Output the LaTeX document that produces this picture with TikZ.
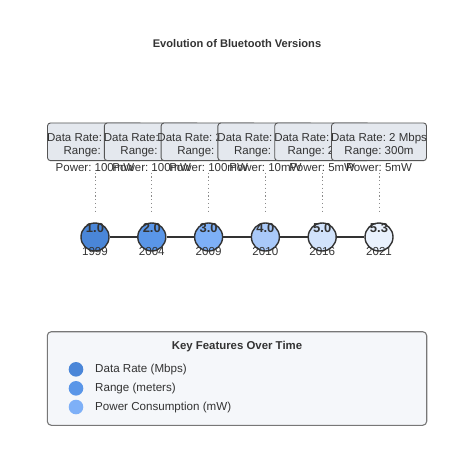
\documentclass[tikz,border=0pt]{standalone}
\usepackage{fontspec}
\setmainfont{Liberation Sans}
\frenchspacing
\definecolor{txt}{HTML}{333333}
\definecolor{boxfill}{HTML}{E4E8EE}
\definecolor{boxline}{HTML}{555555}
\definecolor{dotline}{HTML}{8A8A8A}
\definecolor{cA}{HTML}{4A86D8}
\definecolor{cB}{HTML}{5A96E8}
\definecolor{cC}{HTML}{7EB0F7}
\definecolor{cD}{HTML}{A9C9F9}
\definecolor{cE}{HTML}{D1E2FB}
\definecolor{cF}{HTML}{E9F1FD}
\definecolor{legfill}{HTML}{F5F7FA}
\definecolor{legline}{HTML}{777777}
\tikzset{
  infobox/.style={draw=boxline, line width=0.9pt, fill=boxfill, rounded corners=3pt, minimum width=95pt, minimum height=37.7pt, inner sep=0pt},
  boxtext/.style={font=\frenchspacing\fontsize{11.5}{13}\selectfont, text=txt, inner sep=0pt, anchor=center},
  vcircle/.style={circle, draw=txt, line width=1.4pt, minimum size=28pt, inner sep=0pt},
  vlabel/.style={font=\bfseries\fontsize{13}{15}\selectfont, text=txt, inner sep=0pt},
  ylabel/.style={font=\fontsize{11.6}{13}\selectfont, text=txt, inner sep=0pt},
  dotconn/.style={draw=dotline, dash pattern=on 1.2pt off 2.6pt, line width=1pt},
  timeline/.style={draw=txt, line width=2pt},
  legdot/.style={circle, minimum size=14.6pt, inner sep=0pt},
  legtext/.style={font=\frenchspacing\fontsize{11.6}{13}\selectfont, text=txt, inner sep=0pt, anchor=west},
}
\begin{document}
\begin{tikzpicture}[x=1pt,y=-1pt]
\useasboundingbox (0,0) rectangle (474,474);
\fill[white] (0,0) rectangle (474,474);
\node[font=\bfseries\fontsize{11.1}{13}\selectfont, text=txt] (title) at (237,44) {Evolution of Bluetooth Versions};
% circles positions
\coordinate (p1) at (95,237);
\coordinate (p2) at (151.8,237);
\coordinate (p3) at (208.6,237);
\coordinate (p4) at (265.4,237);
\coordinate (p5) at (322.2,237);
\coordinate (p6) at (379,237);
% boxes and texts
\foreach \i/\x/\dr/\rg/\pw in {1/95/1 Mbps/10m/100mW, 2/151.8/3 Mbps/30m/100mW, 3/208.6/24 Mbps/30m/100mW, 4/265.4/1 Mbps/60m/10mW, 5/322.2/2 Mbps/240m/5mW, 6/379/2 Mbps/300m/5mW}{
  \node[infobox] (b\i) at (\x,141.8) {};
  \node[boxtext] (d\i) at (\x,138.7) {Data Rate: \dr};
  \node[boxtext] (r\i) at (\x,152) {Range: \rg};
  \node[boxtext] (w\i) at (\x,167.3) {Power: \pw};
  \coordinate (t\i) at (\x,172.5);
  \coordinate (e\i) at (\x,214);
}
\foreach \i in {1,...,6}{
  \draw[dotconn] (t\i) -- (e\i);
}
% timeline
\node[vcircle, fill=cA] (c1) at (p1) {};
\node[vcircle, fill=cB] (c2) at (p2) {};
\node[vcircle, fill=cC] (c3) at (p3) {};
\node[vcircle, fill=cD] (c4) at (p4) {};
\node[vcircle, fill=cE] (c5) at (p5) {};
\node[vcircle, fill=cF] (c6) at (p6) {};
\foreach \a/\b in {1/2,2/3,3/4,4/5,5/6}{
  \draw[timeline] (c\a) -- (c\b);
}
\foreach \i/\v/\y in {1/1.0/1999, 2/2.0/2004, 3/3.0/2009, 4/4.0/2010, 5/5.0/2016, 6/5.3/2021}{
  \node[vlabel] (v\i) at ([yshift=9pt]c\i.center) {\v};
  \node[ylabel] (y\i) at ([yshift=-15pt]c\i.center) {\y};
}
% legend
\draw[draw=legline, line width=1.1pt, fill=legfill, rounded corners=4pt] (47.3,331.7) rectangle (426.7,425.3);
\node[font=\bfseries\fontsize{11.4}{13}\selectfont, text=txt] (lt) at (237,346.7) {Key Features Over Time};
\node[legdot, fill=cA] (l1) at (76,369.3) {};
\node[legdot, fill=cB] (l2) at (76,388.3) {};
\node[legdot, fill=cC] (l3) at (76,407) {};
\node[legtext] (lx1) at (95,369.3) {Data Rate (Mbps)};
\node[legtext] (lx2) at (95,388.3) {Range (meters)};
\node[legtext] (lx3) at (95,407) {Power Consumption (mW)};
\end{tikzpicture}
\end{document}
